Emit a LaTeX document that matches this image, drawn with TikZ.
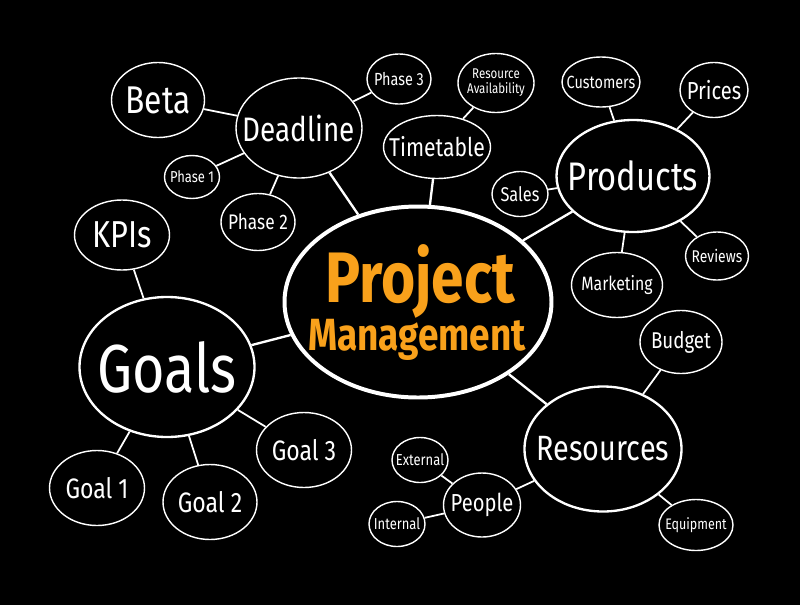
\documentclass[tikz,border=0pt]{standalone}
\usepackage{fontspec}
\setmainfont{Fira Sans}[FakeStretch=0.82]
\usetikzlibrary{shapes.geometric}

\definecolor{pmorange}{HTML}{F9A11B}
\newcommand{\txtsize}[1]{\fontsize{#1}{1.05\dimexpr#1pt\relax}\selectfont}

\tikzset{
  bubble/.style={ellipse, draw=white, line width=1.2pt, inner sep=-40pt, text=white, align=center},
  hub/.style={bubble, line width=2pt},
  core/.style={bubble, line width=3.4pt},
  sz/.style 2 args={minimum width=#1*0.03cm, minimum height=#2*0.03cm},
  link/.style={white, line width=1.5pt},
}

\begin{document}
\begin{tikzpicture}[x=0.03cm, y=-0.03cm]
            % Background
            \fill[black] (0,0) rectangle (800,605);
            \useasboundingbox (0,0) rectangle (800,605);

            % Central topic
            \node[core, sz={267}{191}] (pm) at (418,302) {};
            \node[text=pmorange, inner sep=0pt, font=\bfseries\txtsize{61}] (pmtop) at (420,281) {Project};
            \node[text=pmorange, inner sep=0pt, font=\bfseries\txtsize{38.5}] (pmbot) at (417,340) {Management};

            % Main branches
            \node[hub, sz={175}{140}, font=\txtsize{58}] (goals) at (167,367) {Goals};
            \node[bubble, sz={126}{100}, font=\txtsize{29}] (deadline) at (299,128) {Deadline};
            \node[bubble, sz={107}{63}, font=\txtsize{22}] (timetable) at (437,147) {Timetable};
            \node[hub, sz={153}{112}, font=\txtsize{34}] (products) at (633,176) {Products};
            \node[hub, sz={157}{125}, font=\txtsize{30}] (resources) at (603,449) {Resources};

            % Goals
            \node[bubble, sz={95}{70}, font=\txtsize{32}] (kpis) at (122,235) {KPIs};
            \node[bubble, sz={95}{75}, font=\txtsize{24}] (goal1) at (97,488) {Goal 1};
            \node[bubble, sz={94}{75}, font=\txtsize{24}] (goal2) at (210,502) {Goal 2};
            \node[bubble, sz={95}{75}, font=\txtsize{24}] (goal3) at (304,450) {Goal 3};

            % Deadline
            \node[bubble, sz={93}{75}, font=\txtsize{33}] (beta) at (158,100) {Beta};
            \node[bubble, sz={55}{43}, font=\txtsize{13.5}] (phase1) at (192,177) {Phase 1};
            \node[bubble, sz={74}{57}, font=\txtsize{18}] (phase2) at (258,222) {Phase 2};
            \node[bubble, sz={64}{50}, font=\txtsize{15}] (phase3) at (399,79) {Phase 3};

            % Timetable
            \node[bubble, sz={76}{59}, font=\txtsize{12}] (resavail) at (496,83) {Resource\\Availability};

            % Products
            \node[bubble, sz={78}{50}, font=\txtsize{15}] (customers) at (601,82) {Customers};
            \node[bubble, sz={68}{55}, font=\txtsize{21}] (prices) at (714,90) {Prices};
            \node[bubble, sz={56}{45}, font=\txtsize{17}] (sales) at (520,194) {Sales};
            \node[bubble, sz={63}{48}, font=\txtsize{14.5}] (reviews) at (717,256) {Reviews};
            \node[bubble, sz={91}{65}, font=\txtsize{16.5}] (marketing) at (617,285) {Marketing};

            % Resources
            \node[bubble, sz={82}{63}, font=\txtsize{19.5}] (budget) at (681,342) {Budget};
            \node[bubble, sz={74}{51}, font=\txtsize{13}] (equipment) at (696,525) {Equipment};
            \node[bubble, sz={77}{64}, font=\txtsize{21}] (people) at (482,505) {People};
            \node[bubble, sz={56}{45}, font=\txtsize{13.5}] (external) at (420,460) {External};
            \node[bubble, sz={56}{45}, font=\txtsize{13.5}] (internal) at (397,524) {Internal};

            % Draw connectors from the centre
            \draw[link, line width=2pt] (pm) -- (goals);
            \draw[link, line width=2pt] (pm) -- (deadline);
            \draw[link, line width=2pt] (pm) -- (timetable);
            \draw[link, line width=2pt] (pm) -- (products);
            \draw[link, line width=2pt] (pm) -- (resources);

            % Draw connectors of the branches
            \draw[link] (goals) -- (kpis);
            \draw[link] (goals) -- (goal1);
            \draw[link] (goals) -- (goal2);
            \draw[link] (goals) -- (goal3);
            \draw[link] (deadline) -- (beta);
            \draw[link] (deadline) -- (phase1);
            \draw[link] (deadline) -- (phase2);
            \draw[link] (deadline) -- (phase3);
            \draw[link] (timetable) -- (resavail);
            \draw[link] (products) -- (customers);
            \draw[link] (products) -- (prices);
            \draw[link] (products) -- (sales);
            \draw[link] (products) -- (reviews);
            \draw[link] (products) -- (marketing);
            \draw[link] (resources) -- (budget);
            \draw[link] (resources) -- (equipment);
            \draw[link] (resources) -- (people);
            \draw[link] (people) -- (external);
            \draw[link] (people) -- (internal);
        \end{tikzpicture}
\end{document}
